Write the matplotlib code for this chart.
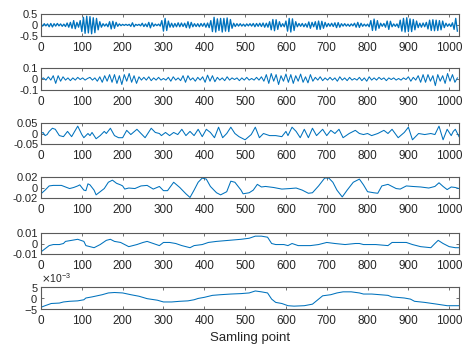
import matplotlib
matplotlib.use("Agg")
import matplotlib.pyplot as plt
import numpy as np
from matplotlib.ticker import ScalarFormatter

plt.rcParams['font.family'] = ['Liberation Sans', 'DejaVu Sans']
plt.rcParams['axes.unicode_minus'] = False

# ---- data ----
# level 1 (dense), one value every 4 samples
step1 = 4
sig1 = [
    0.04, -0.05, 0.06, -0.04, 0.05, -0.08, 0.07, -0.09, 0.06, -0.05, 0.07, -0.04, 0.05, -0.06, 0.04, -0.07,
    0.09, -0.1, 0.12, -0.15, 0.2, -0.17, 0.12, -0.1, 0.2, -0.3, 0.35, -0.38, 0.4, -0.36, 0.38, -0.4,
    0.33, -0.35, 0.3, -0.22, 0.15, -0.1, 0.06, -0.05, 0.05, -0.08, 0.15, -0.18, 0.17, -0.15, 0.12, -0.06,
    0.05, -0.03, 0.03, -0.02, 0.03, -0.02, 0.03, -0.06, 0.1, -0.08, 0.03, -0.02, 0.03, -0.04, 0.08, -0.07,
    0.05, -0.08, 0.12, -0.13, 0.1, -0.06, 0.04, -0.03, 0.04, -0.05, 0.2, -0.28, 0.3, -0.25, 0.18, -0.1,
    0.08, -0.1, 0.07, -0.08, 0.1, -0.08, 0.09, -0.07, 0.08, -0.12, 0.15, -0.14, 0.12, -0.08, 0.06, -0.07,
    0.06, -0.08, 0.07, -0.06, 0.08, -0.1, 0.09, -0.12, 0.2, -0.3, 0.35, -0.32, 0.28, -0.25, 0.3, -0.32,
    0.3, -0.28, 0.32, -0.3, 0.25, -0.15, 0.08, -0.07, 0.06, -0.05, 0.06, -0.05, 0.04, -0.06, 0.05, -0.04,
    0.06, -0.05, 0.07, -0.08, 0.07, -0.06, 0.08, -0.07, 0.09, -0.1, 0.08, -0.1, 0.15, -0.22, 0.25, -0.26,
    0.24, -0.2, 0.15, -0.08, 0.06, -0.08, 0.18, -0.28, 0.3, -0.32, 0.28, -0.25, 0.15, -0.08, 0.07, -0.06,
    0.07, -0.08, 0.06, -0.1, 0.14, -0.15, 0.12, -0.08, 0.15, -0.2, 0.18, -0.2, 0.17, -0.15, 0.12, -0.08,
    0.07, -0.06, 0.08, -0.07, 0.1, -0.12, 0.11, -0.1, 0.06, -0.05, 0.06, -0.05, 0.04, -0.06, 0.05, -0.04,
    0.08, -0.1, 0.12, -0.11, 0.08, -0.06, 0.04, -0.05, 0.04, -0.08, 0.2, -0.25, 0.27, -0.24, 0.2, -0.15,
    0.08, -0.06, 0.07, -0.1, 0.18, -0.2, 0.17, -0.08, 0.05, -0.06, 0.05, -0.12, 0.22, -0.28, 0.3, -0.32,
    0.33, -0.3, 0.28, -0.3, 0.25, -0.22, 0.18, -0.12, 0.08, -0.1, 0.09, -0.08, 0.12, -0.18, 0.22, -0.25,
    0.24, -0.26, 0.22, -0.25, 0.2, -0.22, 0.18, -0.12, 0.08, -0.06, 0.05, -0.07, 0.1, -0.2, 0.3, -0.28,
]

# level 2, one value every 6 samples
step2 = 6
sig2 = [
    0.0, 0.01, -0.01, 0.02, -0.01, 0.03, -0.04, 0.03, -0.02, 0.02,
    -0.01, 0.01, -0.015, 0.01, -0.01, 0.015, -0.005, 0.01, -0.01, 0.005,
    0.015, -0.01, 0.01, -0.02, 0.02, -0.03, 0.03, -0.02, 0.04, -0.03,
    0.04, -0.04, 0.03, -0.05, 0.04, -0.02, 0.05, -0.03, 0.03, -0.04,
    0.02, -0.01, 0.015, -0.01, 0.02, -0.015, 0.01, -0.01, 0.015, -0.01,
    0.005, -0.01, 0.015, -0.02, 0.02, -0.01, 0.01, -0.015, 0.03, -0.03,
    0.03, -0.01, 0.01, -0.02, 0.015, -0.01, 0.02, -0.03, 0.035, -0.02,
    0.03, -0.025, 0.015, -0.01, 0.01, -0.015, 0.02, -0.01, 0.01, -0.005,
    0.01, -0.015, 0.01, -0.01, 0.015, -0.01, 0.005, -0.01, 0.015, -0.01,
    0.02, -0.02, 0.04, -0.04, 0.05, -0.02, 0.04, -0.05, 0.03, -0.02,
    0.045, -0.03, 0.04, -0.04, 0.03, -0.02, 0.045, -0.03, 0.02, -0.035,
    0.04, -0.02, 0.015, -0.01, 0.02, -0.015, 0.01, -0.01, 0.015, -0.01,
    0.01, -0.02, 0.02, -0.01, 0.01, -0.015, 0.015, -0.01, 0.005, -0.01,
    0.015, -0.015, 0.01, -0.02, 0.02, -0.01, 0.01, -0.01, 0.015, -0.005,
    0.01, -0.015, 0.01, -0.005, 0.01, -0.01, 0.005, -0.01, 0.01, -0.005,
    0.02, -0.02, 0.015, -0.01, 0.03, -0.03, 0.04, -0.03, 0.04, -0.02,
    0.03, -0.06, 0.04, -0.02, 0.03, -0.04, 0.05, -0.02, 0.04, -0.03,
    0.01,
]

# levels 3-6: sample index / value of the turning points
x3 = [0, 5, 10, 15, 20, 28, 35, 45, 55, 65, 75, 90, 100, 105, 115, 120, 125, 135, 145, 155,
      160, 170, 180, 190, 200, 210, 220, 235, 245, 255, 270, 280, 290, 295, 305, 315, 325, 335,
      345, 355, 365, 375, 385, 395, 405, 415, 425, 435, 445, 455, 465, 475, 485, 500, 515, 525,
      535, 545, 560, 575, 590, 600, 605, 615, 625, 635, 645, 655, 665, 675, 690, 700, 710, 720,
      730, 740, 755, 770, 780, 790, 800, 810, 825, 840, 850, 860, 875, 890, 900, 910, 925, 940,
      955, 965, 975, 985, 995, 1005, 1010, 1015, 1024]
y3 = [0.0, 0.005, -0.01, -0.005, 0.01, 0.025, 0.02, -0.01, -0.015, 0.01, -0.015, 0.035, -0.005,
      -0.02, 0.0, -0.01, 0.005, -0.025, -0.01, 0.01, 0.0, 0.025, -0.01, -0.02, -0.02, 0.015,
      -0.005, 0.02, 0.0, -0.02, 0.025, 0.005, 0.0, -0.01, 0.005, -0.01, 0.005, -0.005, 0.02,
      -0.01, 0.01, -0.01, 0.02, -0.015, 0.02, 0.005, -0.02, 0.03, -0.02, 0.0, 0.03, 0.0, -0.015,
      -0.03, -0.005, 0.03, -0.02, 0.0, -0.01, -0.01, -0.015, 0.01, -0.01, 0.03, 0.01, -0.02,
      0.02, -0.02, 0.025, -0.01, 0.02, -0.01, 0.015, 0.0, 0.02, -0.02, 0.0, 0.015, 0.0, -0.005,
      0.0, -0.01, 0.0, 0.015, 0.0, 0.02, -0.02, 0.005, 0.03, -0.03, 0.0, -0.005, 0.0, -0.005,
      0.035, -0.03, 0.02, -0.01, 0.01, 0.02, -0.015]

x4 = [0, 10, 20, 30, 50, 60, 70, 80, 90, 95, 105, 110, 115, 120, 130, 135, 145, 155, 165, 175,
      185, 195, 200, 205, 215, 230, 245, 260, 275, 290, 300, 310, 325, 340, 345, 355, 365, 375,
      385, 395, 405, 415, 430, 440, 455, 465, 475, 490, 495, 510, 520, 530, 540, 550, 570, 590,
      610, 625, 640, 655, 665, 680, 695, 705, 715, 725, 738, 750, 765, 780, 790, 800, 815, 825,
      835, 850, 860, 870, 880, 895, 910, 930, 950, 965, 975, 985, 995, 1005, 1015, 1024]
y4 = [-0.012, -0.005, 0.003, 0.004, 0.004, 0.001, -0.002, 0.0, 0.003, 0.005, -0.005, -0.006,
      0.007, 0.005, -0.005, -0.014, -0.008, -0.002, 0.01, 0.014, 0.008, 0.005, 0.003, -0.003,
      -0.001, -0.002, 0.003, 0.004, -0.003, 0.002, -0.006, -0.006, 0.01, 0.0, -0.004, -0.012,
      -0.019, -0.005, 0.01, 0.018, 0.016, 0.002, -0.01, -0.014, -0.008, 0.012, 0.01, -0.005,
      -0.012, -0.01, -0.005, 0.006, 0.001, 0.002, 0.0, -0.003, -0.002, -0.001, -0.005, -0.011,
      -0.01, 0.003, 0.018, 0.018, 0.01, -0.005, -0.018, -0.005, 0.01, 0.016, 0.005, -0.008,
      -0.01, -0.011, 0.003, 0.006, 0.002, -0.002, -0.003, 0.003, 0.002, 0.001, -0.001, 0.002,
      0.009, 0.002, -0.004, 0.001, 0.0, -0.002]

x5 = [0, 10, 20, 30, 45, 55, 60, 75, 90, 105, 110, 120, 130, 145, 160, 170, 180, 195, 205, 215,
      225, 235, 250, 260, 275, 290, 300, 315, 330, 345, 365, 375, 395, 410, 430, 460, 490, 510,
      525, 540, 555, 565, 575, 595, 605, 615, 630, 660, 680, 700, 720, 745, 770, 780, 790, 820,
      850, 860, 880, 895, 910, 930, 955, 965, 973, 985, 1000, 1015, 1024]
y5 = [-0.008, -0.005, -0.002, -0.001, -0.001, 0.0, 0.002, 0.003, 0.004, 0.002, -0.002, -0.003,
      -0.004, -0.001, 0.003, 0.004, 0.002, 0.001, -0.001, -0.003, -0.002, -0.001, 0.001, 0.002,
      0.0, -0.002, 0.001, 0.001, 0.0, -0.002, -0.004, -0.002, -0.001, 0.001, 0.002, 0.003, 0.004,
      0.005, 0.007, 0.007, 0.006, 0.0, -0.001, -0.001, -0.002, 0.0, -0.002, -0.002, -0.001,
      0.001, 0.0, -0.001, 0.0, 0.0, -0.001, -0.001, -0.002, 0.001, 0.001, 0.001, -0.001, -0.003,
      -0.004, 0.0, 0.003, 0.0, -0.003, -0.004, -0.004]

x6 = [0, 10, 25, 45, 55, 70, 90, 105, 110, 125, 150, 165, 180, 200, 220, 240, 260, 285, 300, 320,
      340, 360, 375, 385, 400, 420, 440, 465, 490, 510, 525, 540, 555, 565, 575, 590, 605, 620,
      645, 665, 690, 710, 725, 740, 760, 780, 790, 810, 830, 850, 860, 890, 905, 915, 940, 970,
      995, 1024]
y6_milli = [-4.2, -3.5, -2.5, -2.3, -1.8, -1.5, -1.3, -0.8, 0.0, 0.5, 1.5, 2.3, 2.5, 2.3, 1.5, 0.8,
            -0.3, -1.0, -1.8, -1.8, -1.5, -1.3, -0.8, -0.2, 0.3, 1.2, 1.5, 1.8, 2.0, 2.3, 3.2, 2.8,
            2.3, -0.5, -2.0, -2.5, -3.5, -3.7, -3.5, -2.8, 1.0, 1.5, 2.3, 2.8, 2.8, 2.3, 1.8, 1.8,
            1.5, 1.2, 0.5, 0.0, -0.5, -1.5, -2.0, -2.8, -3.5, -3.5]

y_limits = [0.5, 0.1, 0.05, 0.02, 0.01, 0.005]
y_tick_labels = [['-0.5', '0', '0.5'], ['-0.1', '0', '0.1'], ['-0.05', '0', '0.05'],
                 ['-0.02', '0', '0.02'], ['-0.01', '0', '0.01'], None]
x_ticks = [0, 100, 200, 300, 400, 500, 600, 700, 800, 900, 1000]
x_label = 'Samling point'

series = [
    (np.arange(len(sig1)) * step1, np.array(sig1)),
    (np.arange(len(sig2)) * step2, np.array(sig2)),
    (np.array(x3), np.array(y3)),
    (np.array(x4), np.array(y4)),
    (np.array(x5), np.array(y5)),
    (np.array(x6), np.array(y6_milli) * 1e-3),
]

# ---- layout (pixel rows of each axes box in the 474x358 image) ----
W, H = 474, 358
box_top = [14, 68, 123, 177, 233, 287]
box_bot = [36, 90, 144, 198, 254, 309]
left_px, right_px = 41, 459

line_col = '#0072BD'
frame_col = '#5a5a5a'
text_col = '#262626'

fig = plt.figure(figsize=(W / 100, H / 100), dpi=100)

for i, (xs, ys) in enumerate(series):
    ax = fig.add_axes([left_px / W, 1 - box_bot[i] / H,
                       (right_px - left_px) / W, (box_bot[i] - box_top[i]) / H])
    ax.plot(xs, ys, color=line_col, lw=0.95 if i == 0 else 0.75)
    lim = y_limits[i]
    ax.set_xlim(0, 1024)
    ax.set_ylim(-lim, lim)
    ax.set_xticks(x_ticks)
    ax.set_yticks([-lim, 0, lim])
    if y_tick_labels[i] is not None:
        ax.set_yticklabels(y_tick_labels[i])
    else:
        fmt = ScalarFormatter(useMathText=True)
        fmt.set_powerlimits((-2, 2))
        ax.yaxis.set_major_formatter(fmt)
        ax.yaxis.get_offset_text().set_fontsize(7.5)
        ax.yaxis.get_offset_text().set_color(text_col)
    ax.tick_params(direction='in', length=2.5, width=0.6, top=True, right=True,
                   colors=frame_col, labelcolor=text_col)
    ax.tick_params(axis='x', pad=4, labelsize=8.5)
    ax.tick_params(axis='y', pad=2, labelsize=8)
    for s in ax.spines.values():
        s.set_color(frame_col)
        s.set_linewidth(0.8)
    if i == len(series) - 1:
        ax.set_xlabel(x_label, fontsize=9.5, color=text_col, labelpad=4)

fig.savefig('out.png', dpi=100)
